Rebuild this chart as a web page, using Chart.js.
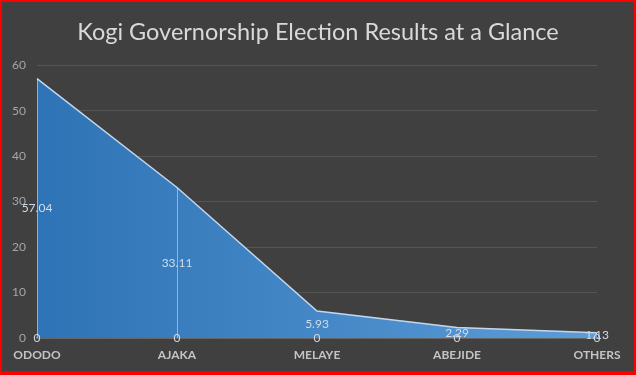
<!DOCTYPE html>
<html>
<head>
<meta charset="utf-8">
<script src="https://cdn.jsdelivr.net/npm/chart.js@4.4.1/dist/chart.umd.min.js"></script>
<style>
  html, body { margin: 0; padding: 0; background: #404040; }
  #wrap { position: relative; width: 636px; height: 375px; background: #404040; }
  #wrap canvas { position: absolute; left: 0; top: 0; }
  #frame {
    position: absolute; left: 0; top: 0; width: 636px; height: 375px;
    box-sizing: border-box; border: 2px solid #ff0000; border-bottom-width: 4px;
    pointer-events: none;
  }
</style>
</head>
<body>
<div id="wrap">
  <canvas id="grafico" width="636" height="375"></canvas>
  <div id="frame"></div>
</div>
<script>
// dados
const candidatos = ['ODODO', 'AJAKA', 'MELAYE', 'ABEJIDE', 'OTHERS'];
const percentuais = [57.04, 33.11, 5.93, 2.29, 1.13];
const serieZero = [0, 0, 0, 0, 0];
const yMin = 0, yMax = 60, yPasso = 10;
// linhas verticais que aparecem no original
const linhasVerticais = ['ODODO', 'AJAKA'];

Chart.defaults.font.family = 'Lato, "Open Sans", sans-serif';

// rótulos de dados no estilo do Excel (centro da área)
const rotulosPlugin = {
  id: 'rotulos',
  afterDatasetsDraw(chart) {
    const ctx = chart.ctx;
    const y = chart.scales.y;
    ctx.save();
    ctx.font = '12px Lato, "Open Sans", sans-serif';
    ctx.textAlign = 'center';
    ctx.textBaseline = 'middle';

    // drop lines
    const metaP = chart.getDatasetMeta(1);
    ctx.strokeStyle = 'rgba(220,230,242,0.55)';
    ctx.lineWidth = 1;
    linhasVerticais.forEach(nome => {
      const i = candidatos.indexOf(nome);
      const pt = metaP.data[i];
      ctx.beginPath();
      ctx.moveTo(Math.round(pt.x) + 0.5, pt.y);
      ctx.lineTo(Math.round(pt.x) + 0.5, y.getPixelForValue(0));
      ctx.stroke();
    });

    ctx.fillStyle = '#cfdcea';
    metaP.data.forEach((pt, i) => {
      ctx.fillText(percentuais[i].toFixed(2), pt.x, y.getPixelForValue(percentuais[i] / 2));
    });
    const metaZ = chart.getDatasetMeta(0);
    ctx.fillStyle = '#d0d8e2';
    metaZ.data.forEach((pt, i) => {
      ctx.fillText(String(serieZero[i]), pt.x, y.getPixelForValue(serieZero[i]));
    });
    ctx.restore();
  }
};

const ctx = document.getElementById('grafico').getContext('2d');
const grafico = new Chart(ctx, {
  type: 'line',
  data: {
    labels: candidatos,
    datasets: [
      {
        label: 'Base',
        data: serieZero,
        borderColor: 'rgba(0,0,0,0)',
        borderWidth: 0,
        pointRadius: 0,
        fill: false,
        order: 0
      },
      {
        label: 'Percentual',
        data: percentuais,
        tension: 0,
        pointRadius: 0,
        borderColor: '#c3d7ec',
        borderWidth: 1.5,
        fill: 'origin',
        backgroundColor: (c) => {
          const area = c.chart.chartArea;
          if (!area) return '#3d80c4';
          const g = c.chart.ctx.createLinearGradient(area.left, 0, area.right, 0);
          g.addColorStop(0, '#2e73b5');
          g.addColorStop(1, '#5c9cd8');
          return g;
        },
        order: 1
      }
    ]
  },
  options: {
    responsive: false,
    animation: false,
    devicePixelRatio: 1,
    layout: { padding: { left: 4, right: 4, top: 0, bottom: 0 } },
    plugins: {
      legend: { display: false },
      tooltip: { enabled: false },
      title: {
        display: true,
        text: 'Kogi Governorship Election Results at a Glance',
        color: '#d9d9d9',
        font: { size: 23.5, weight: 'normal' },
        padding: { top: 18, bottom: 19 }
      }
    },
    scales: {
      x: {
        offset: false,
        grid: { display: false, drawTicks: false },
        border: { display: true, color: '#8a8a8a', width: 1.5 },
        ticks: {
          color: '#c4c4c4',
          font: { size: 12, weight: 'bold' },
          padding: 10,
          maxRotation: 0,
          autoSkip: false
        },
        afterFit: (s) => { s.height = 37; }
      },
      y: {
        min: yMin,
        max: yMax,
        ticks: { stepSize: yPasso, color: '#a6a6a6', font: { size: 12 }, padding: 11 },
        grid: {
          drawTicks: false,
          color: (c) => c.tick && c.tick.value === 0 ? 'rgba(0,0,0,0)' : '#555555',
          lineWidth: 1
        },
        border: { display: false },
        afterFit: (s) => { s.width = 33; }
      },
      // eixo vazio só para reservar a margem direita
      yDireita: {
        position: 'right',
        min: yMin,
        max: yMax,
        grid: { display: false, drawTicks: false },
        border: { display: false },
        ticks: { display: false },
        afterFit: (s) => { s.width = 35; }
      }
    }
  },
  plugins: [rotulosPlugin]
});
</script>
</body>
</html>
